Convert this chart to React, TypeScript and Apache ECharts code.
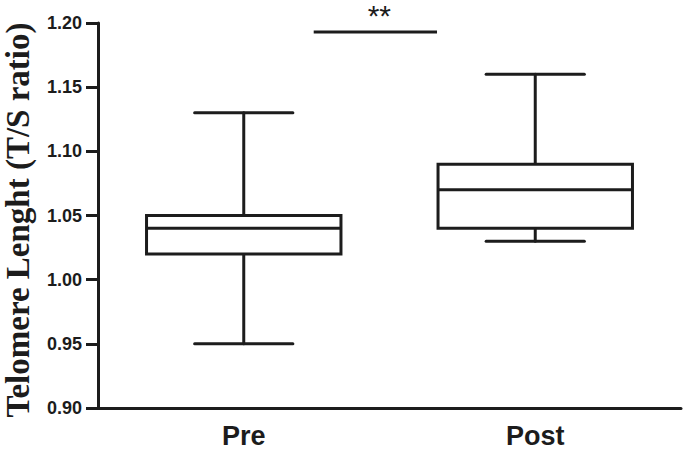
import React, { useEffect, useRef } from 'react';
import * as echarts from 'echarts';

const categories = ['Pre', 'Post'];
const minValues = [0.95, 1.03];
const q1Values = [1.02, 1.04];
const medianValues = [1.04, 1.07];
const q3Values = [1.05, 1.09];
const maxValues = [1.13, 1.16];

const yMin = 0.9;
const yMax = 1.2;
const yInterval = 0.05;

const sigFrom = [0];
const sigTo = [1];
const sigValue = [1.193];
const sigLabel = ['**'];

const yAxisTitle = 'Telomere Lenght (T/S ratio)';

const INK = '#1c1c1c';

export default function App() {
  const ref = useRef<HTMLDivElement>(null);

  useEffect(() => {
    if (!ref.current) return;
    const chart = echarts.init(ref.current, null, { renderer: 'svg' });

    const boxData = categories.map((_, i) => [
      i,
      minValues[i],
      q1Values[i],
      medianValues[i],
      q3Values[i],
      maxValues[i],
    ]);
    const sigData = sigValue.map((v, i) => [sigFrom[i], sigTo[i], v]);

    const option: any = {
      animation: false,
      backgroundColor: '#ffffff',
      grid: {
        left: 98,
        right: 4,
        top: 23,
        bottom: 41,
        containLabel: false,
        outerBoundsMode: 'none',
      },
      graphic: [
        {
          type: 'text',
          x: 17.5,
          y: 220,
          rotation: Math.PI / 2,
          style: {
            text: yAxisTitle,
            fill: INK,
            fontSize: 33,
            lineHeight: 28,
            fontWeight: 'bold',
            fontFamily: 'Liberation Serif, Times New Roman, serif',
            align: 'center',
            verticalAlign: 'middle',
          },
        },
      ],
      xAxis: {
        type: 'category',
        data: categories,
        boundaryGap: true,
        axisLine: { lineStyle: { color: INK, width: 3 } },
        axisTick: { alignWithLabel: true, length: 10, lineStyle: { color: INK, width: 3 } },
        axisLabel: {
          color: INK,
          fontSize: 27,
          fontWeight: 'bold',
          fontFamily: 'Liberation Sans, Arial, sans-serif',
          margin: 14,
        },
        splitLine: { show: false },
      },
      yAxis: {
        type: 'value',
        min: yMin,
        max: yMax,
        interval: yInterval,
        axisLine: { show: true, lineStyle: { color: INK, width: 3 } },
        axisTick: { show: true, length: 12, lineStyle: { color: INK, width: 3 } },
        axisLabel: {
          color: INK,
          fontSize: 18,
          fontWeight: 'bold',
          fontFamily: 'Liberation Sans, Arial, sans-serif',
          margin: 16,
          formatter: (v: number) => v.toFixed(2),
        },
        splitLine: { show: false },
      },
      series: [
        {
          type: 'custom',
          name: 'box',
          data: boxData,
          encode: { x: 0, y: [1, 2, 3, 4, 5] },
          clip: false,
          renderItem: (params: any, api: any) => {
            const idx = api.value(0);
            const pMin = api.coord([idx, api.value(1)]);
            const pQ1 = api.coord([idx, api.value(2)]);
            const pMed = api.coord([idx, api.value(3)]);
            const pQ3 = api.coord([idx, api.value(4)]);
            const pMax = api.coord([idx, api.value(5)]);
            const band = api.size([1, 0])[0];
            const boxW = band * 0.667;
            const capW = band * 0.337;
            const cx = pMed[0];
            const lineStyle = { stroke: INK, lineWidth: 3, lineCap: 'round' };
            return {
              type: 'group',
              children: [
                {
                  type: 'line',
                  shape: { x1: cx, y1: pMax[1], x2: cx, y2: pQ3[1] },
                  style: lineStyle,
                },
                {
                  type: 'line',
                  shape: { x1: cx, y1: pQ1[1], x2: cx, y2: pMin[1] },
                  style: lineStyle,
                },
                {
                  type: 'line',
                  shape: { x1: cx - capW / 2, y1: pMax[1], x2: cx + capW / 2, y2: pMax[1] },
                  style: lineStyle,
                },
                {
                  type: 'line',
                  shape: { x1: cx - capW / 2, y1: pMin[1], x2: cx + capW / 2, y2: pMin[1] },
                  style: lineStyle,
                },
                {
                  type: 'rect',
                  shape: { x: cx - boxW / 2, y: pQ3[1], width: boxW, height: pQ1[1] - pQ3[1] },
                  style: { fill: '#ffffff', stroke: INK, lineWidth: 3 },
                },
                {
                  type: 'line',
                  shape: { x1: cx - boxW / 2, y1: pMed[1], x2: cx + boxW / 2, y2: pMed[1] },
                  style: { stroke: INK, lineWidth: 3 },
                },
              ],
            };
          },
        },
        {
          type: 'custom',
          name: 'significance',
          data: sigData,
          encode: { x: [0, 1], y: 2 },
          clip: false,
          renderItem: (params: any, api: any) => {
            const v = api.value(2);
            const p0 = api.coord([api.value(0), v]);
            const p1 = api.coord([api.value(1), v]);
            const span = p1[0] - p0[0];
            const x0 = p0[0] + span * 0.24;
            const x1 = p0[0] + span * 0.663;
            return {
              type: 'group',
              children: [
                {
                  type: 'line',
                  shape: { x1: x0, y1: p0[1], x2: x1, y2: p0[1] },
                  style: { stroke: INK, lineWidth: 3 },
                },
                {
                  type: 'text',
                  x: (x0 + x1) / 2 + 4,
                  y: p0[1] - 16,
                  style: {
                    text: sigLabel[params.dataIndex],
                    fill: INK,
                    fontSize: 30,
                    lineHeight: 24,
                    fontFamily: 'Liberation Sans, Arial, sans-serif',
                    align: 'center',
                    verticalAlign: 'middle',
                  },
                },
              ],
            };
          },
        },
      ],
    };

    chart.setOption(option);
    return () => chart.dispose();
  }, []);

  return (
    <div
      ref={ref}
      style={{ position: 'fixed', left: 0, top: 0, width: 685, height: 449, background: '#fff' }}
    />
  );
}
